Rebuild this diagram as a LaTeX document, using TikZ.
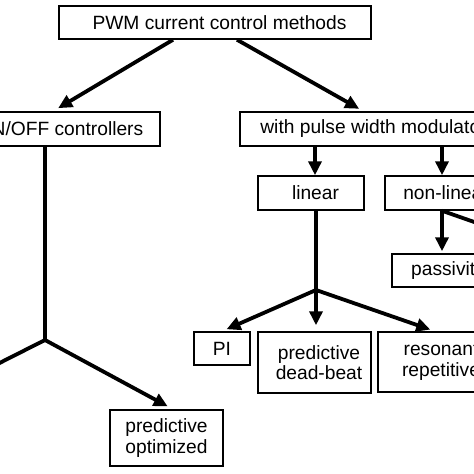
\documentclass[tikz,border=0pt]{standalone}
\usepackage{fontspec}
\setmainfont{Liberation Sans}
\usetikzlibrary{arrows.meta,positioning}

\begin{document}
\begin{tikzpicture}[x=1pt, y=-1pt, font=\fontsize{19.2}{20.5}\selectfont,
    box/.style={rectangle, draw=black, line width=1.5pt, fill=white, align=center, inner sep=0pt},
    arr/.style={-{Triangle[length=14pt,width=13pt]}, line width=3.8pt, black},
    ln/.style={line width=3.8pt, black}]
  \useasboundingbox[fill=white] (0,0) rectangle (474,474);
  \clip (0,0) rectangle (474,474);

  % boxes
  \node[box, minimum width=312pt, minimum height=33pt] (top) at (215,22.5) {\hspace*{9pt}PWM current control methods};
  \node[box, minimum width=200pt, minimum height=34pt] (onoff) at (60,129) {ON/OFF controllers};
  \node[box, minimum width=267pt, minimum height=34pt] (pwm) at (373.5,129) {with pulse width modulator};
  \node[box, minimum width=106pt, minimum height=34pt] (lin) at (311,193) {\hspace*{9pt}linear};
  \node[box, minimum width=122pt, minimum height=34pt] (nonlin) at (446,193) {non-linear};
  \node[box, minimum width=112pt, minimum height=33pt] (pass) at (448,270.5) {passivity};
  \node[box, minimum width=56pt, minimum height=33pt] (pi) at (222,348.5) {PI};
  \node[box, minimum width=113pt, minimum height=61pt] (dbeat) at (314.5,362.5) {\hspace*{9pt}predictive\\\hspace*{9pt}dead-beat};
  \node[box, minimum width=126pt, minimum height=60pt] (reson) at (441,362) {resonant\\repetitive};
  \node[box, minimum width=113pt, minimum height=56pt] (popt) at (166.5,438) {predictive\\optimized};

  % branch points
  \coordinate (jlin) at (316,290);
  \coordinate (jon) at (45,340);
  \coordinate (nlout) at (540,245);
  \coordinate (onout) at (-40,383);

  % connectors
  \draw[arr, shorten >=6pt] ([xshift=-42pt]top.south) -- ([xshift=-7pt]onoff.north);
  \draw[arr, shorten >=5pt] ([xshift=22pt]top.south) -- ([xshift=-10pt]pwm.north);
  \draw[arr] ([xshift=4pt]lin.north |- pwm.south) -- ([xshift=4pt]lin.north);
  \draw[arr] ([xshift=-4pt]nonlin.north |- pwm.south) -- ([xshift=-4pt]nonlin.north);
  \draw[arr, shorten >=2pt] ([xshift=-4pt]nonlin.south) -- ([xshift=-6pt]pass.north);
  \draw[ln] ([xshift=-4pt]nonlin.south) -- (nlout);
  \draw[ln] ([xshift=5pt]lin.south) -- (jlin);
  \draw[arr, shorten >=5pt] (jlin) -- (pi.north);
  \draw[arr, shorten >=6pt] (jlin) -- (jlin |- dbeat.north);
  \draw[arr, shorten >=5pt] (jlin) -- ([xshift=-6pt]reson.north);
  \draw[ln] ([xshift=-15pt]onoff.south) -- (jon);
  \draw[ln] (jon) -- (onout);
  \draw[arr, shorten >=6pt] (jon) -- ([xshift=6.5pt]popt.north);
\end{tikzpicture}
\end{document}
